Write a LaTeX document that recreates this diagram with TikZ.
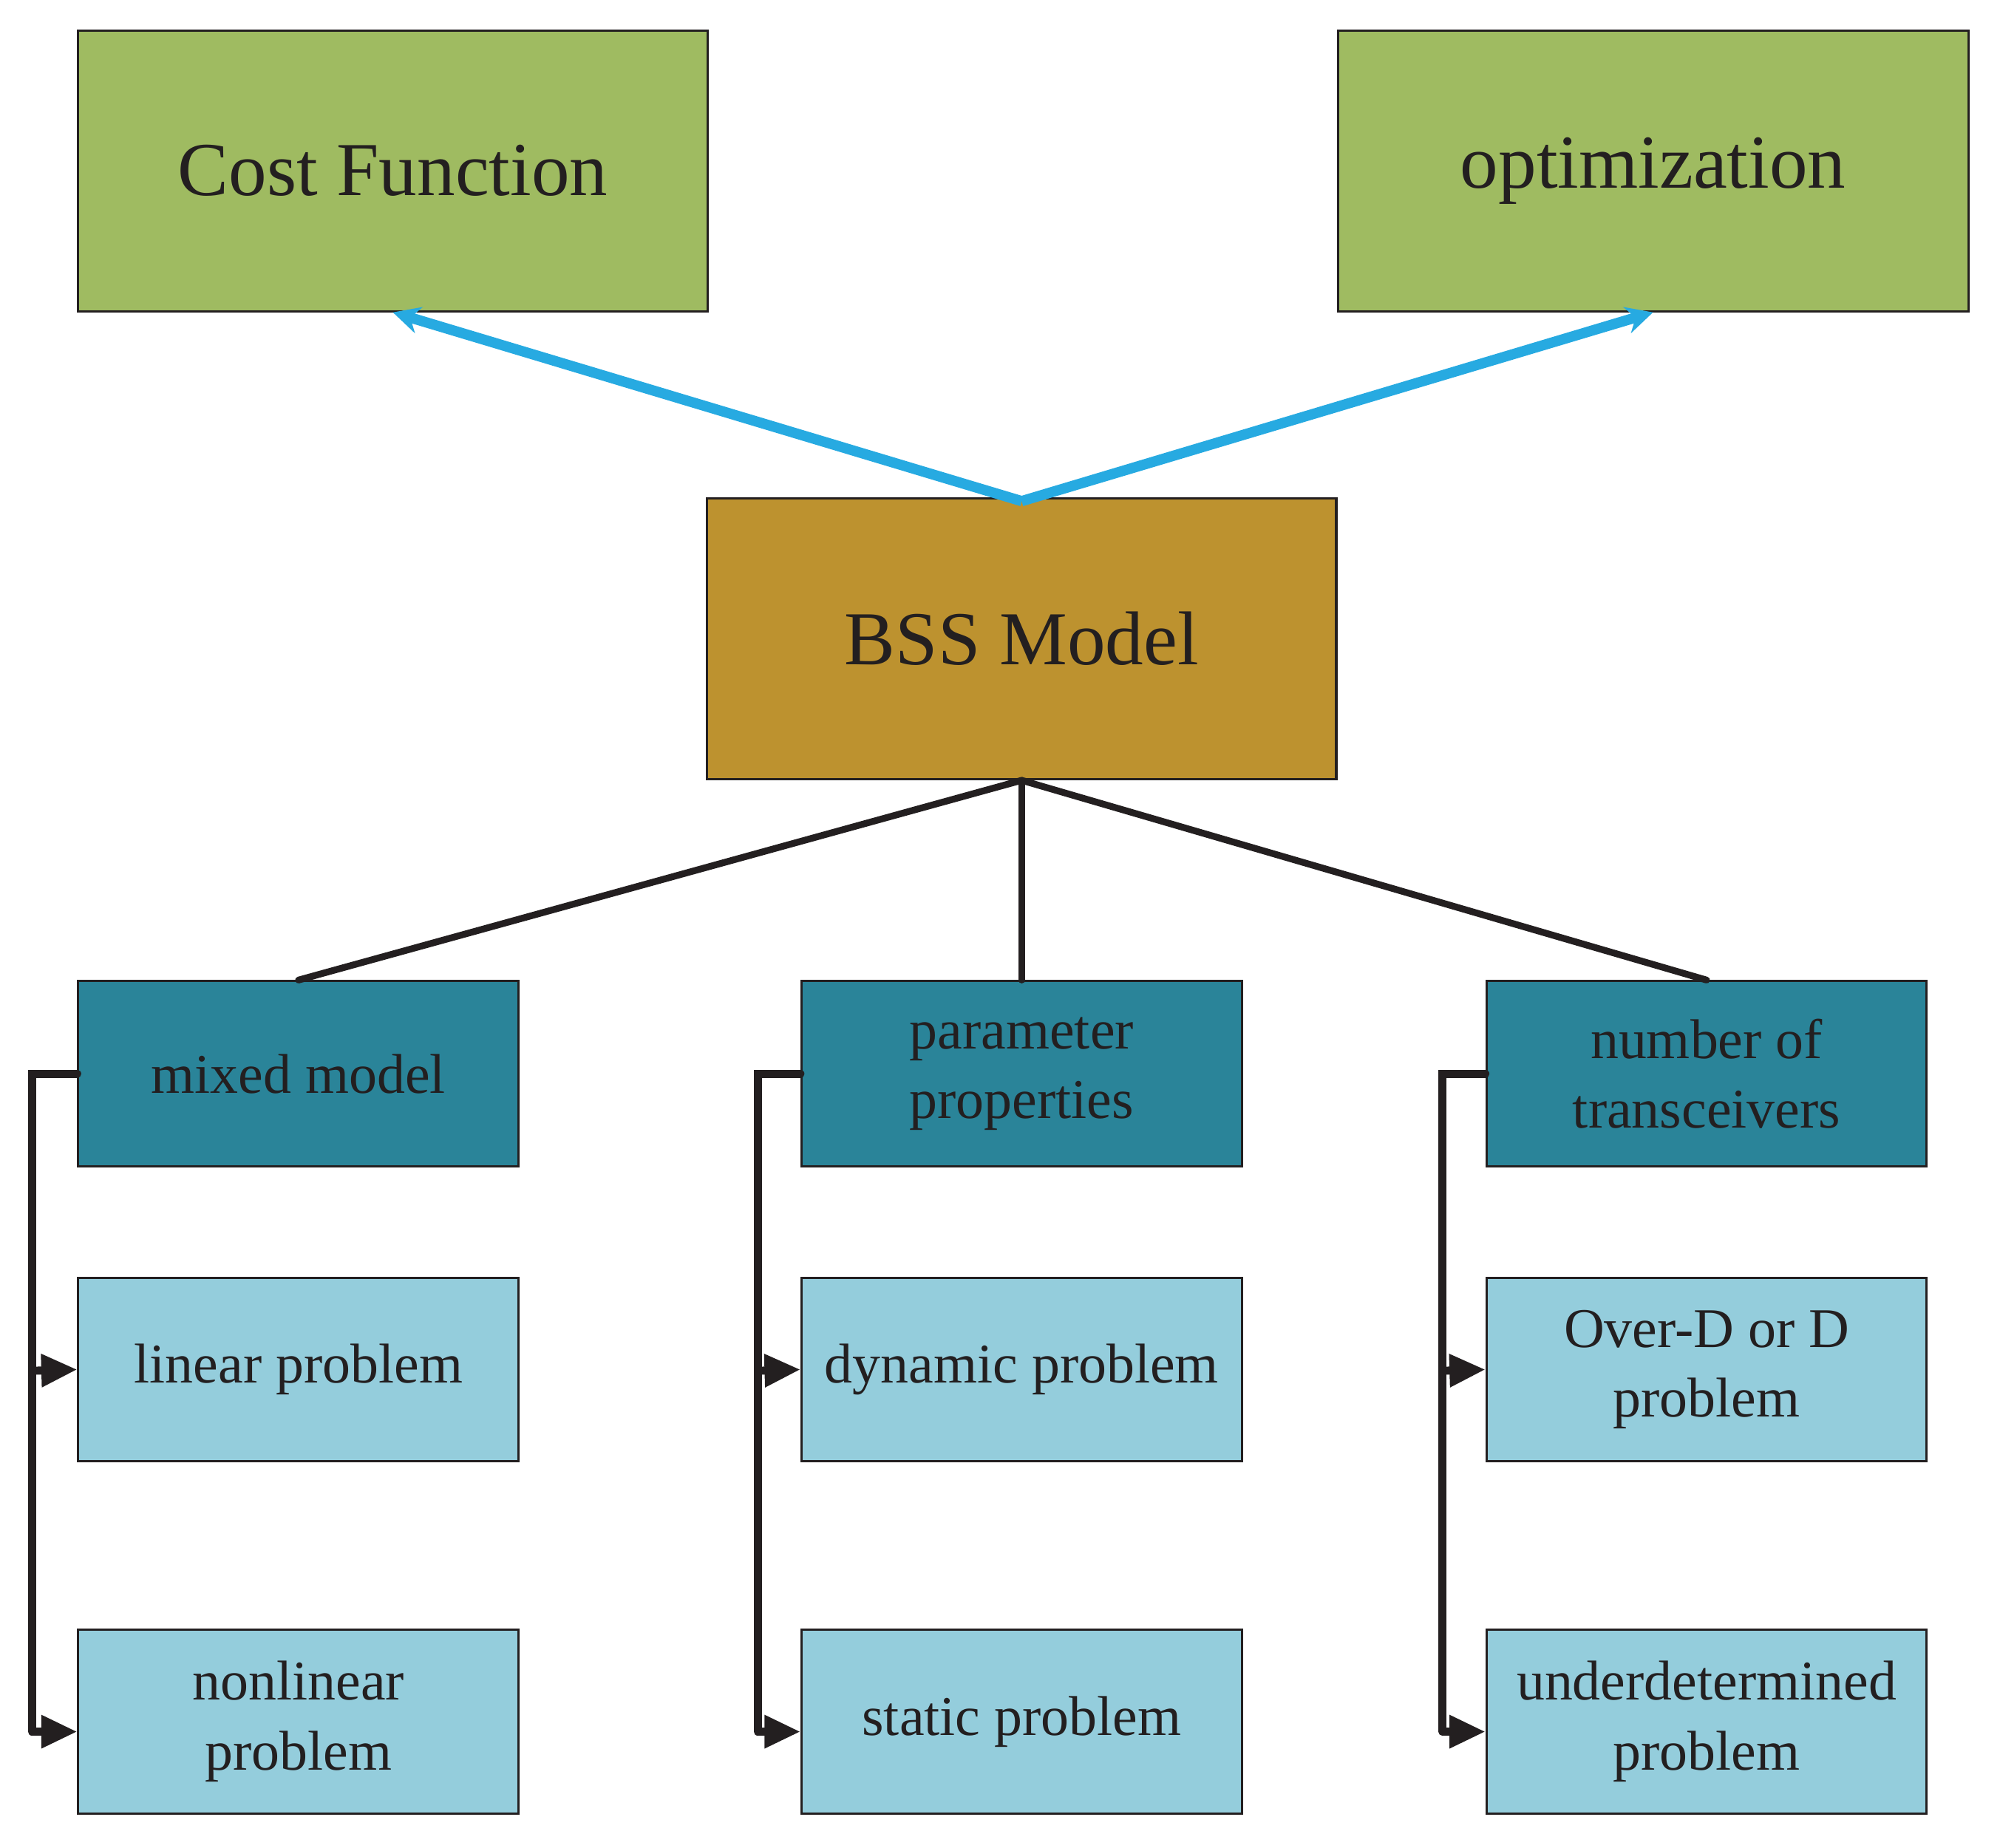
\documentclass[tikz,border=0pt]{standalone}
\usepackage{fontspec}
\setmainfont{Liberation Serif}
\usetikzlibrary{arrows.meta}
\definecolor{gr}{HTML}{9FBB61}
\definecolor{go}{HTML}{BD922F}
\definecolor{te}{HTML}{2A8499}
\definecolor{lb}{HTML}{94CDDC}
\definecolor{bl}{HTML}{27AAE1}
\definecolor{dk}{HTML}{231F20}
\begin{document}
\begin{tikzpicture}[x=0.01cm,y=-0.01cm,
 big/.style={draw=dk,line width=0.5pt,font=\fontsize{17}{20}\selectfont,text=dk,inner sep=0pt},
 sm/.style={draw=dk,line width=0.5pt,font=\fontsize{12.5}{15.5}\selectfont,text=dk,align=center,inner sep=0pt},
 blue/.style={bl,line width=2.3pt,-{Stealth[length=6pt,width=6pt]}},
 blk/.style={dk,line width=1.5pt,line cap=round},
 br/.style={dk,line width=1.8pt,line cap=round},
 brar/.style={dk,line width=1.8pt,-{Triangle[length=8pt,width=7pt]}}]
\useasboundingbox (0,0) rectangle (1568,1449);
\node[big,fill=gr,minimum width=4.93cm,minimum height=2.2cm] (cf) at (308,134) {Cost Function};
\node[big,fill=gr,minimum width=4.94cm,minimum height=2.2cm] (op) at (1296,134) {optimization};
\node[big,fill=go,minimum width=4.93cm,minimum height=2.2cm] (bss) at (801,501) {BSS Model};
\foreach \n/\x/\t in {m/234/mixed model,p/801/parameter\\properties,n/1338/number of\\transceivers}
 \node[sm,fill=te,minimum width=3.45cm,minimum height=1.45cm] (\n) at (\x,842) {\t};
\foreach \n/\x/\t in {m2/234/linear problem,p2/801/dynamic problem,n2/1338/Over-D or D\\problem}
 \node[sm,fill=lb,minimum width=3.45cm,minimum height=1.44cm] (\n) at (\x,1074) {\t};
\foreach \n/\x/\t in {m3/234/nonlinear\\problem,p3/801/static problem,n3/1338/underdetermined\\problem}
 \node[sm,fill=lb,minimum width=3.45cm,minimum height=1.44cm] (\n) at (\x,1350) {\t};
\coordinate (top) at (801,393);
\draw[blue] (top) -- (cf.south);
\draw[blue] (top) -- (op.south);
\draw[blk] (bss.south) -- (m.north);
\draw[blk] (bss.south) -- (p.north);
\draw[blk] (bss.south) -- (n.north);
\foreach \a/\x in {m/25,p/594,n/1131}{
 \draw[br] (\a.west) -- (\x,842) -- (\x,1358);
 \draw[brar] (\x,1075) -- (\a2.west);
 \draw[brar] (\x,1358) -- (\a3.west |- 0,1358);
}
\end{tikzpicture}
\end{document}
